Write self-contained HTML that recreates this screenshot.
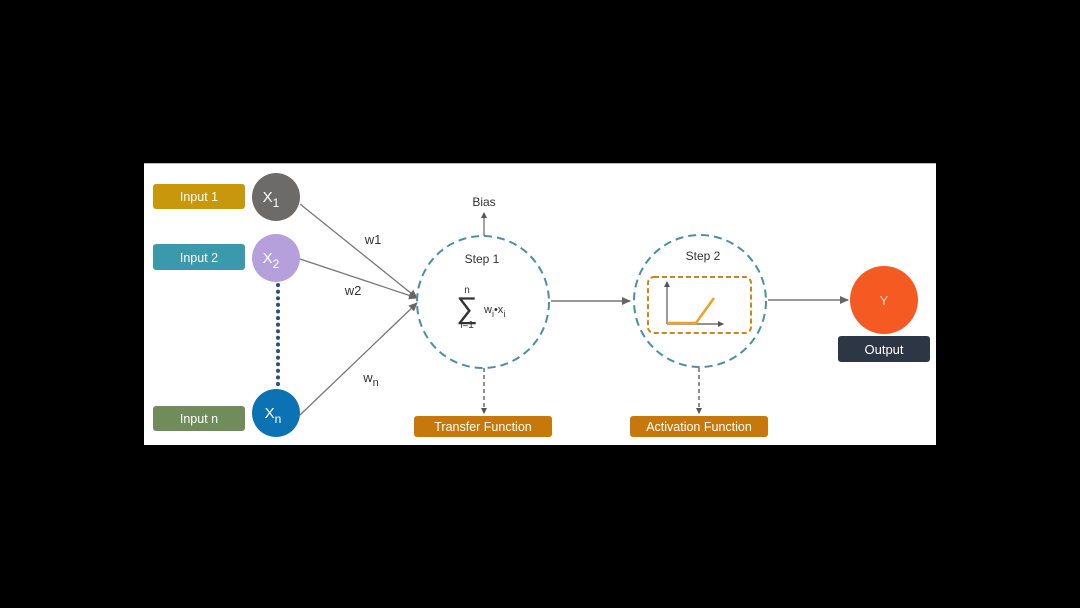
<!DOCTYPE html>
<html><head><meta charset="utf-8"><style>
html,body{margin:0;padding:0;background:#000;width:1080px;height:608px;overflow:hidden}
svg{display:block}
text{font-family:"Liberation Sans",sans-serif}
</style></head><body>
<svg width="1080" height="608" viewBox="0 0 1080 608" xmlns="http://www.w3.org/2000/svg">
<defs>
<marker id="a" markerWidth="10" markerHeight="10" refX="8" refY="5" orient="auto" markerUnits="userSpaceOnUse"><path d="M0,1 L9,5 L0,9 z" fill="#666"/></marker>
<marker id="s" markerWidth="6" markerHeight="6" refX="5" refY="3" orient="auto" markerUnits="userSpaceOnUse"><path d="M0,0 L6,3 L0,6 z" fill="#555"/></marker>
</defs>
<rect x="144" y="163" width="792" height="282" fill="#fff"/>
<line x1="144" y1="163.5" x2="936" y2="163.5" stroke="#bbb" stroke-width="1"/>
<rect x="153" y="184" width="92" height="25" rx="3" fill="#c9970b"/>
<text x="199" y="201" font-size="12.5" fill="#fff" text-anchor="middle">Input 1</text>
<rect x="153" y="244" width="92" height="26" rx="3" fill="#3a9aab"/>
<text x="199" y="262" font-size="12.5" fill="#fff" text-anchor="middle">Input 2</text>
<rect x="153" y="406" width="92" height="25" rx="3" fill="#6f8c5a"/>
<text x="199" y="423" font-size="12.5" fill="#fff" text-anchor="middle">Input n</text>
<line x1="300" y1="204" x2="417" y2="298" stroke="#777" stroke-width="1.3" marker-end="url(#a)"/>
<line x1="300" y1="259" x2="417" y2="298" stroke="#777" stroke-width="1.3" marker-end="url(#a)"/>
<line x1="300" y1="415" x2="417" y2="303" stroke="#777" stroke-width="1.3" marker-end="url(#a)"/>
<text x="373" y="244" font-size="13" fill="#333" text-anchor="middle">w1</text>
<text x="353" y="295" font-size="13" fill="#333" text-anchor="middle">w2</text>
<text x="371" y="382" font-size="13" fill="#333" text-anchor="middle">w<tspan font-size="11" dy="4">n</tspan></text>
<line x1="278" y1="285" x2="278" y2="388" stroke="#2d4f7a" stroke-width="4" stroke-linecap="round" stroke-dasharray="0.1 6.5"/>
<circle cx="276" cy="197" r="24" fill="#6d6a6a"/>
<text x="271" y="202" font-size="15" fill="#fff" text-anchor="middle">X<tspan font-size="12" dy="5">1</tspan></text>
<circle cx="276" cy="258" r="24" fill="#b5a0dc"/>
<text x="271" y="263" font-size="15" fill="#fff" text-anchor="middle">X<tspan font-size="12" dy="5">2</tspan></text>
<circle cx="276" cy="413" r="24" fill="#0b73b3"/>
<text x="273" y="418" font-size="15" fill="#fff" text-anchor="middle">X<tspan font-size="12" dy="5">n</tspan></text>
<circle cx="483" cy="302" r="66" fill="none" stroke="#4a8fa3" stroke-width="2" stroke-dasharray="8 5"/>
<line x1="484" y1="236" x2="484" y2="213" stroke="#666" stroke-width="1.2" marker-end="url(#s)"/>
<text x="484" y="206" font-size="12" fill="#333" text-anchor="middle">Bias</text>
<text x="482" y="263" font-size="12" fill="#333" text-anchor="middle">Step 1</text>
<text x="467" y="293" font-size="10" fill="#333" text-anchor="middle">n</text>
<text x="467" y="318" font-size="30" fill="#333" text-anchor="middle">∑</text>
<text x="467" y="328" font-size="10" fill="#333" text-anchor="middle">i=1</text>
<text x="484" y="313" font-size="11" fill="#333">w<tspan font-size="9" dy="4">i</tspan><tspan dy="-4">•x</tspan><tspan font-size="9" dy="4">i</tspan></text>
<line x1="484" y1="368" x2="484" y2="413" stroke="#555" stroke-width="1.3" stroke-dasharray="4 3" marker-end="url(#s)"/>
<rect x="414" y="416" width="138" height="21" rx="3" fill="#c7780a"/>
<text x="483" y="431" font-size="12.5" fill="#fff" text-anchor="middle">Transfer Function</text>
<line x1="551" y1="301" x2="630" y2="301" stroke="#777" stroke-width="1.5" marker-end="url(#a)"/>
<circle cx="700" cy="301" r="66" fill="none" stroke="#4a8fa3" stroke-width="2" stroke-dasharray="8 5"/>
<text x="703" y="260" font-size="12" fill="#333" text-anchor="middle">Step 2</text>
<rect x="648" y="277" width="103" height="56" rx="6" fill="none" stroke="#c7880f" stroke-width="2" stroke-dasharray="5 3"/>
<line x1="667" y1="324" x2="667" y2="282" stroke="#555" stroke-width="1.2" marker-end="url(#s)"/>
<line x1="667" y1="324" x2="723" y2="324" stroke="#555" stroke-width="1.2" marker-end="url(#s)"/>
<polyline points="667,323 696,323 714,298" fill="none" stroke="#f0a024" stroke-width="2.5"/>
<line x1="699" y1="368" x2="699" y2="413" stroke="#555" stroke-width="1.3" stroke-dasharray="4 3" marker-end="url(#s)"/>
<rect x="630" y="416" width="138" height="21" rx="3" fill="#c7780a"/>
<text x="699" y="431" font-size="12.5" fill="#fff" text-anchor="middle">Activation Function</text>
<line x1="768" y1="300" x2="848" y2="300" stroke="#777" stroke-width="1.5" marker-end="url(#a)"/>
<circle cx="884" cy="300" r="34" fill="#f55a22"/>
<text x="884" y="305" font-size="13" fill="#fbd0b8" text-anchor="middle">Y</text>
<rect x="838" y="336" width="92" height="26" rx="3" fill="#2d3645"/>
<text x="884" y="354" font-size="13" fill="#fff" text-anchor="middle">Output</text>
</svg>
</body></html>
